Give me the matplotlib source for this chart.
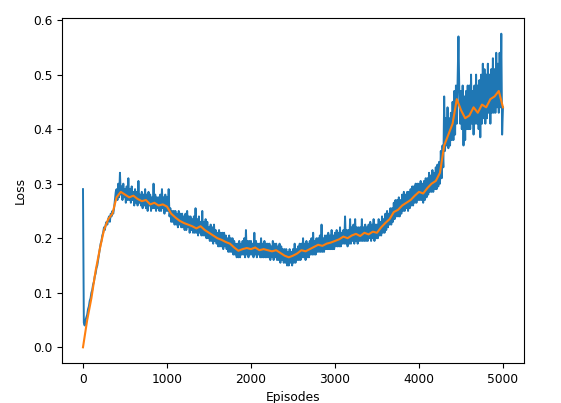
import numpy as np
import matplotlib
matplotlib.use("Agg")
import matplotlib.pyplot as plt

# Raw loss (blue), sampled every 10 episodes (one row = 100 episodes)
raw_step = 10
raw_loss = [
    0.29, 0.045, 0.04, 0.05, 0.055, 0.06, 0.07, 0.075, 0.085, 0.09,
    0.10, 0.105, 0.115, 0.12, 0.13, 0.135, 0.145, 0.15, 0.16, 0.17,
    0.18, 0.19, 0.195, 0.205, 0.21, 0.22, 0.215, 0.225, 0.23, 0.225,
    0.235, 0.24, 0.23, 0.245, 0.24, 0.25, 0.245, 0.255, 0.27, 0.285,
    0.29, 0.27, 0.30, 0.275, 0.32, 0.28, 0.295, 0.27, 0.30, 0.275,
    0.29, 0.265, 0.295, 0.27, 0.31, 0.27, 0.29, 0.265, 0.295, 0.27,
    0.285, 0.26, 0.29, 0.265, 0.285, 0.26, 0.305, 0.265, 0.28, 0.26,
    0.285, 0.255, 0.28, 0.26, 0.29, 0.255, 0.28, 0.25, 0.285, 0.26,
    0.28, 0.25, 0.275, 0.255, 0.30, 0.255, 0.28, 0.25, 0.275, 0.255,
    0.275, 0.25, 0.28, 0.25, 0.29, 0.255, 0.275, 0.245, 0.28, 0.25,
    0.275, 0.25, 0.29, 0.24, 0.255, 0.23, 0.25, 0.23, 0.25, 0.225,
    0.25, 0.225, 0.245, 0.22, 0.25, 0.225, 0.245, 0.22, 0.245, 0.22,
    0.24, 0.215, 0.245, 0.215, 0.25, 0.22, 0.24, 0.21, 0.24, 0.215,
    0.235, 0.21, 0.24, 0.21, 0.255, 0.21, 0.235, 0.205, 0.24, 0.21,
    0.23, 0.205, 0.25, 0.205, 0.23, 0.205, 0.235, 0.20, 0.23, 0.20,
    0.22, 0.195, 0.225, 0.195, 0.22, 0.19, 0.225, 0.195, 0.215, 0.19,
    0.21, 0.185, 0.215, 0.185, 0.21, 0.185, 0.21, 0.18, 0.21, 0.185,
    0.205, 0.18, 0.20, 0.175, 0.205, 0.175, 0.20, 0.175, 0.20, 0.17,
    0.195, 0.17, 0.19, 0.165, 0.19, 0.165, 0.195, 0.165, 0.19, 0.17,
    0.195, 0.17, 0.20, 0.165, 0.215, 0.17, 0.195, 0.165, 0.195, 0.17,
    0.195, 0.17, 0.19, 0.165, 0.21, 0.17, 0.195, 0.165, 0.19, 0.17,
    0.19, 0.165, 0.20, 0.165, 0.19, 0.165, 0.195, 0.165, 0.19, 0.165,
    0.19, 0.165, 0.19, 0.16, 0.185, 0.165, 0.195, 0.16, 0.19, 0.165,
    0.19, 0.16, 0.185, 0.16, 0.19, 0.155, 0.185, 0.16, 0.18, 0.155,
    0.18, 0.155, 0.18, 0.15, 0.175, 0.15, 0.18, 0.155, 0.175, 0.15,
    0.18, 0.155, 0.19, 0.155, 0.18, 0.16, 0.185, 0.16, 0.19, 0.16,
    0.19, 0.165, 0.20, 0.165, 0.19, 0.16, 0.195, 0.165, 0.19, 0.165,
    0.195, 0.17, 0.20, 0.17, 0.21, 0.17, 0.195, 0.17, 0.20, 0.175,
    0.20, 0.175, 0.205, 0.175, 0.225, 0.175, 0.20, 0.175, 0.205, 0.18,
    0.205, 0.18, 0.21, 0.18, 0.205, 0.18, 0.215, 0.18, 0.205, 0.18,
    0.21, 0.185, 0.215, 0.185, 0.21, 0.185, 0.22, 0.185, 0.21, 0.19,
    0.215, 0.19, 0.24, 0.19, 0.215, 0.185, 0.215, 0.19, 0.235, 0.19,
    0.22, 0.195, 0.225, 0.19, 0.235, 0.195, 0.22, 0.19, 0.22, 0.195,
    0.22, 0.195, 0.235, 0.195, 0.22, 0.195, 0.225, 0.195, 0.22, 0.195,
    0.225, 0.20, 0.23, 0.195, 0.225, 0.20, 0.235, 0.195, 0.225, 0.20,
    0.225, 0.20, 0.235, 0.205, 0.23, 0.205, 0.24, 0.21, 0.235, 0.21,
    0.245, 0.215, 0.25, 0.22, 0.245, 0.225, 0.255, 0.225, 0.255, 0.23,
    0.265, 0.235, 0.27, 0.24, 0.27, 0.24, 0.275, 0.24, 0.27, 0.245,
    0.28, 0.25, 0.285, 0.25, 0.28, 0.255, 0.285, 0.25, 0.285, 0.255,
    0.29, 0.26, 0.295, 0.26, 0.295, 0.265, 0.30, 0.265, 0.30, 0.27,
    0.30, 0.27, 0.305, 0.27, 0.30, 0.265, 0.305, 0.27, 0.31, 0.275,
    0.31, 0.28, 0.32, 0.285, 0.315, 0.285, 0.325, 0.285, 0.32, 0.29,
    0.33, 0.29, 0.335, 0.295, 0.34, 0.30, 0.36, 0.31, 0.37, 0.33,
    0.46, 0.36, 0.42, 0.37, 0.44, 0.365, 0.42, 0.37, 0.43, 0.38,
    0.45, 0.38, 0.47, 0.39, 0.48, 0.41, 0.49, 0.57, 0.47, 0.41,
    0.47, 0.40, 0.48, 0.37, 0.46, 0.38, 0.47, 0.40, 0.48, 0.40,
    0.48, 0.40, 0.50, 0.41, 0.47, 0.39, 0.48, 0.41, 0.50, 0.41,
    0.48, 0.40, 0.49, 0.385, 0.50, 0.41, 0.52, 0.42, 0.51, 0.41,
    0.50, 0.42, 0.52, 0.43, 0.50, 0.41, 0.51, 0.43, 0.53, 0.43,
    0.51, 0.43, 0.54, 0.44, 0.52, 0.43, 0.54, 0.44, 0.575, 0.39,
    0.44,
]

# Smoothed loss (orange), sampled every 50 episodes
avg_step = 50
avg_loss = [
    0.00, 0.05, 0.09, 0.14, 0.18, 0.215, 0.235, 0.245, 0.275, 0.285,
    0.28, 0.275, 0.278, 0.272, 0.268, 0.27, 0.262, 0.265, 0.26, 0.262,
    0.258, 0.245, 0.238, 0.232, 0.228, 0.225, 0.222, 0.218, 0.222, 0.215,
    0.21, 0.205, 0.20, 0.197, 0.193, 0.19, 0.183, 0.177, 0.18, 0.182,
    0.18, 0.183, 0.178, 0.18, 0.178, 0.176, 0.178, 0.173, 0.168, 0.165,
    0.168, 0.172, 0.178, 0.176, 0.18, 0.184, 0.188, 0.186, 0.19, 0.192,
    0.195, 0.198, 0.203, 0.20, 0.205, 0.208, 0.204, 0.21, 0.207, 0.212,
    0.21, 0.22, 0.228, 0.235, 0.248, 0.252, 0.26, 0.265, 0.27, 0.278,
    0.285, 0.282, 0.292, 0.30, 0.305, 0.32, 0.37, 0.39, 0.41, 0.455,
    0.435, 0.42, 0.425, 0.44, 0.43, 0.445, 0.44, 0.455, 0.46, 0.47,
    0.44,
]

raw_x = np.arange(len(raw_loss)) * raw_step
avg_x = np.arange(len(avg_loss)) * avg_step

plt.rcParams['font.size'] = 8.8
fig = plt.figure(figsize=(5.61, 4.03), dpi=100)
ax = fig.add_axes([0.1105, 0.0993, 0.8235, 0.856])
ax.plot(raw_x, raw_loss, color='#1f77b4', linewidth=1.4)
ax.plot(avg_x, avg_loss, color='#ff7f0e', linewidth=1.5)
ax.set_xlabel('Episodes')
ax.set_ylabel('Loss')
ax.set_xticks([0, 1000, 2000, 3000, 4000, 5000])
ax.set_yticks([0.0, 0.1, 0.2, 0.3, 0.4, 0.5, 0.6])
fig.savefig('out.png', dpi=100)
